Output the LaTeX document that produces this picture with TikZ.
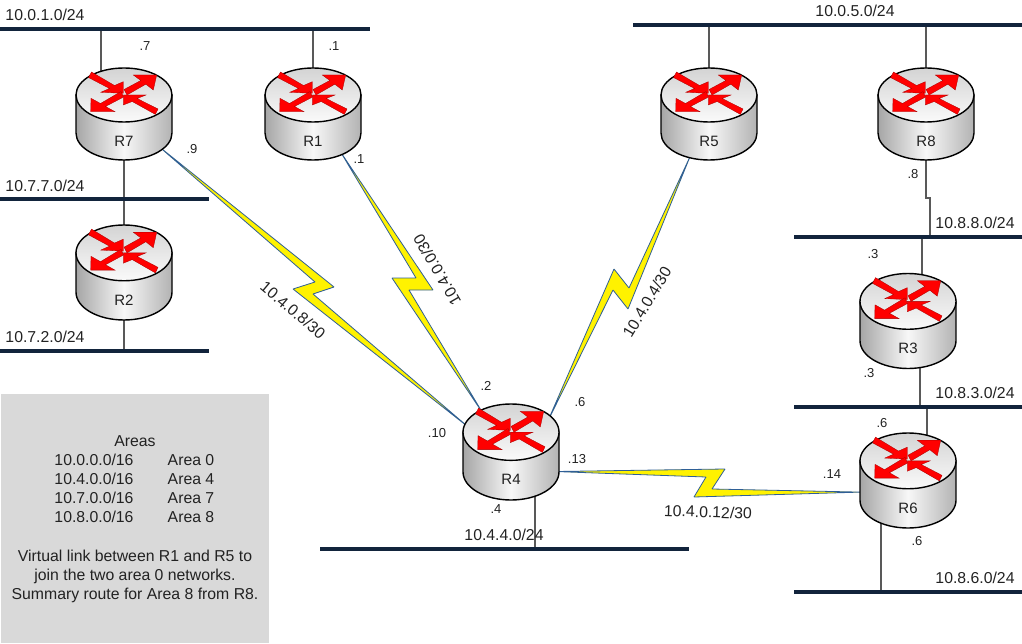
\documentclass[tikz,border=0pt]{standalone}
\usepackage{fontspec}
\setmainfont{Liberation Sans}
\usetikzlibrary{shapes.geometric}
\newcommand\bigfont{\fontsize{15.8}{19}\selectfont}
\newcommand\smallfont{\fontsize{13}{15}\selectfont}
\definecolor{barcol}{HTML}{12243C}
\definecolor{wancol}{HTML}{2F5F96}
\definecolor{inkcol}{HTML}{222222}
\tikzset{
    rtrnode/.style={ellipse,inner sep=0pt,outer sep=0pt,minimum width=96pt},
    rtrarrow/.style={fill=red,draw=black!35!red,line width=0.3pt},
    netbar/.style={fill=barcol,inner sep=0pt,outer sep=0pt,minimum height=4pt},
    lanlink/.style={draw=black!65,line width=1.1pt},
    wanlink/.style={draw=wancol,fill=yellow,line width=0.8pt,line join=bevel},
    bigtext/.style={font=\bigfont,text=inkcol,inner sep=0pt},
    smalltext/.style={font=\smallfont,text=inkcol,inner sep=0pt},
    pics/routerpic/.style={code={
        \draw[line width=1.4pt,left color=black!35,right color=black!30,middle color=black!3]
            (-48,-19) -- (-48,19) .. controls (-48,34) and (-26.5,46) .. (0,46)
            .. controls (26.5,46) and (48,34) .. (48,19) -- (48,-19) -- cycle;
        \draw[line width=1.4pt,top color=black!17,bottom color=black!2]
            (0,-19) ellipse [x radius=48pt,y radius=27pt];
        \draw[rtrarrow] (-0.7,-20.7) -- (-0.7,-32.3) -- (-9.5,-28.5) -- (-32.5,-42) -- (-35.5,-36.5) -- (-14.5,-25.5) -- (-23.3,-21.7) -- cycle;
        \draw[rtrarrow] (32.7,-39) -- (9.3,-39) -- (16.8,-33.5) -- (0,-24.5) -- (3,-19) -- (21.8,-29.8) -- (29.3,-24) -- cycle;
        \draw[rtrarrow] (-33.3,-2.3) -- (-33,-15.7) -- (-23.5,-10.5) -- (-3,-22.5) -- (-0.4,-17) -- (-18.5,-7.5) -- (-9,-2.3) -- cycle;
        \draw[rtrarrow] (-0.7,-19) -- (22,-19) -- (13.2,-15.5) -- (34,-5) -- (31.4,0.4) -- (8.2,-12.5) -- (-0.7,-9) -- cycle;
    }},
}
\begin{document}
\begin{tikzpicture}[x=1pt,y=-1pt]
    \useasboundingbox (0,0) rectangle (1022,644);
    \node[fill=black!15,inner sep=0pt,minimum width=268pt,minimum height=249pt] (areabox) at (135,518.5) {};

    \foreach \n/\x/\y/\h in {R7/124/114/92,R1/313/114/92,R5/709/114/92,R8/926/114/92,
        R2/124/272.5/95,R3/908/321/95,R4/511/452/96,R6/908/480.5/95} {
      \node[rtrnode,minimum height=\h pt] (\n) at (\x,\y) {};
    }
    \foreach \n/\a/\b/\y in {n1/0/370/29,n5/633/1022/25,n77/0/209/199,n72/0/209/351,
        n88/794/1022/237,n83/794/1022/407,n86/794/1022/592,n44/320/689/549} {
      \coordinate (\n) at ({(\a+\b)/2},\y);
    }

    \foreach \r/\n/\s in {R7/n1/-23,R1/n1/0,R5/n5/0,R8/n5/0,R2/n72/0,R3/n88/14,R3/n83/12,R6/n83/19,R6/n86/-27,R4/n44/24} {
      \draw[lanlink] ([xshift=\s pt]\r.center) -- ([xshift=\s pt]\r.center |- \n);
    }
    \draw[lanlink] (R7) -- (R2);
    \draw[lanlink] (R8.center) -- ++(0,84) -- ++(4,0) coordinate (r8jog) -- (r8jog |- n88);

    \foreach \n/\a/\b/\y in {n1/0/370/29,n5/633/1022/25,n77/0/209/199,n72/0/209/351,
        n88/794/1022/237,n83/794/1022/407,n86/794/1022/592,n44/320/689/549} {
      \node[netbar,minimum width={(\b-\a)*1pt}] (bar\n) at (\n) {};
    }

    \draw[wanlink] (R7.-43) -- (315,282) -- (293,289) -- (R4.150) -- (313,294) -- (334,287) -- cycle;
    \draw[wanlink] (R1.-54) -- (416,278) -- (392,278) -- (R4.126) -- (409,290) -- (433,290) -- cycle;
    \draw[wanlink] (R5.-114) -- (629,288) -- (614,269) -- (R4.40) -- (613,290) -- (628,309) -- cycle;
    \draw[wanlink] (R4.-24) -- (706,477) -- (694,497) -- (R6.-166) -- (712,489) -- (725,469) -- cycle;

    \foreach \n/\h in {R7/92,R1/92,R5/92,R8/92,R2/95,R3/95,R4/96,R6/95} {
      \pic[yscale=\h/92] at (\n) {routerpic};
      \node[bigtext,font=\fontsize{15}{18}\selectfont] (label\n) at ([yshift=-27.5pt]\n.center) {\n};
    }

    \foreach \x/\y/\z [count=\i] in {45/15/10.0.1.0,855/11/10.0.5.0,45/186/10.7.7.0,45/337/10.7.2.0,
        975/223/10.8.8.0,975/393/10.8.3.0,975/578/10.8.6.0,504/535/10.4.4.0} {
      \node[bigtext] (net\i) at (\x,\y) {\z/24};
    }
    \foreach \x/\y/\z [count=\i] in {145/46/.7,334/46/.1,192/149/.9,359/159/.1,486/386/.2,437/433/.10,
        580/402/.6,577/459/.13,496/509/.4,832/474/.14,882/423/.6,917/541/.6,913/174/.8,873/254/.3,869/373/.3} {
      \node[smalltext] (ip\i) at (\x,\y) {\z};
    }
    \foreach \x/\y/\z/\a [count=\i] in {293/310/10.4.0.8/-40,437/270/10.4.0.0/120,647/302/10.4.0.4/59,708/512/10.4.0.12/-2} {
      \node[bigtext,rotate=\a] (wan\i) at (\x,\y) {\z/30};
    }

    \node[bigtext] (areatitle) at (135,441) {Areas};
    \foreach \y/\z/\a [count=\i] in {460/10.0.0.0/0,479/10.4.0.0/4,498/10.7.0.0/7,517/10.8.0.0/8} {
      \node[bigtext] (areanet\i) at (94,\y) {\z/16};
      \node[bigtext] (areaname\i) at (191,\y) {Area \a};
    }
    \node[bigtext,align=center] (areanote) at (135,576) {Virtual link between R1 and R5 to\\join the two area 0 networks.\\Summary route for Area 8 from R8.};
\end{tikzpicture}
\end{document}
